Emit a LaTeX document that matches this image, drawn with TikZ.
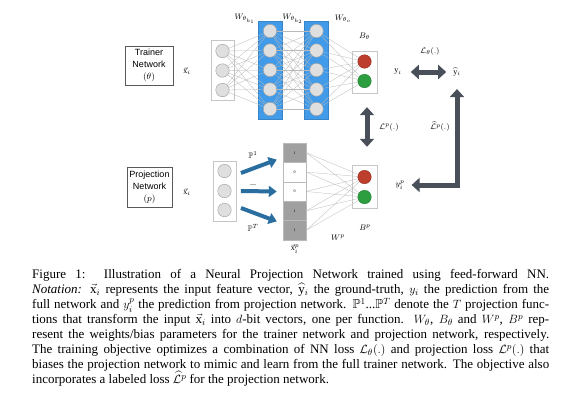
\documentclass[tikz,border=0pt]{standalone}
\usepackage{amsmath,amssymb}
\usepackage{fontspec}
\setmainfont{Liberation Serif}
\newfontfamily\boxfont{Liberation Sans}
\usetikzlibrary{arrows.meta}
\definecolor{layerblue}{RGB}{66,155,233}
\definecolor{outred}{RGB}{190,62,45}
\definecolor{outgreen}{RGB}{44,158,64}
\definecolor{arrowgray}{RGB}{74,80,90}
\definecolor{bitblue}{RGB}{42,110,160}
\definecolor{bitgray}{RGB}{160,160,160}

\begin{document}
\begin{tikzpicture}[x=1pt,y=-1pt]
\tikzstyle{neuron} = [circle, draw=gray!75, fill=gray!25, minimum size=13.5pt, inner sep=0pt]
\tikzstyle{inlayer} = [draw=gray!45, fill=white, minimum width=23pt, minimum height=60pt]
\tikzstyle{hidlayer} = [fill=layerblue, draw=layerblue!85!black, minimum width=24pt, minimum height=98pt]
\tikzstyle{netname} = [draw=gray!70!black, align=center, inner sep=0pt, font=\boxfont\fontsize{9}{12}\selectfont]
\tikzstyle{wire} = [draw=gray!55, line width=0.3pt]
\tikzstyle{lossarrow} = [draw=arrowgray, line width=5pt, {Triangle[length=8pt,width=14pt]}-{Triangle[length=8pt,width=14pt]}]
\tikzstyle{bitarrow} = [draw=bitblue, line width=4pt, -{Triangle[length=8pt,width=11pt]}]
\tikzstyle{lbl} = [inner sep=1pt, font=\fontsize{8}{9}\selectfont]
\tikzstyle{bitcell} = [draw=gray!55, minimum width=23pt, minimum height=19.4pt, inner sep=0pt, font=\fontsize{4}{4}\selectfont]

\useasboundingbox (0,0) rectangle (586,407);
\fill[white] (0,0) rectangle (586,407);

% trainer network
\node[netname, minimum width=48pt, minimum height=39pt] (tnet) at (149,65.5) {Trainer\\Network\\$(\theta)$};
\node[lbl] (tx) at (187,71) {$\vec{\mathrm{x}}_i$};
\node[inlayer] (tin) at (222.5,70.5) {};
\node[hidlayer] (th1) at (270,70) {};
\node[hidlayer] (th2) at (316.5,70) {};
\node[inlayer, minimum width=25pt, minimum height=42pt] (tout) at (364.5,72) {};
\foreach \i/\y in {1/51,2/70.5,3/90} \node[neuron] (ti\i) at (222.5,\y) {};
\foreach \i/\y in {1/31,2/50.5,3/70,4/89.5,5/109} {
  \node[neuron] (ta\i) at (270,\y) {};
  \node[neuron] (tb\i) at (316.5,\y) {};
}
\node[neuron, fill=outred, draw=outred!80!black] (tr) at (364.5,61.5) {};
\node[neuron, fill=outgreen, draw=outgreen!80!black] (tg) at (364.5,81) {};
\foreach \i in {1,...,3} \foreach \j in {1,...,5} \draw[wire] (ti\i) -- (ta\j);
\foreach \i in {1,...,5} \foreach \j in {1,...,5} \draw[wire] (ta\i) -- (tb\j);
\foreach \i in {1,...,5} {
  \draw[wire] (tb\i) -- (tr);
  \draw[wire] (tb\i) -- (tg);
}
\node[lbl] (w1) at (245,19) {$W_{\theta_{h_1}}$};
\node[lbl] (w2) at (293,19) {$W_{\theta_{h_2}}$};
\node[lbl] (w3) at (343,19) {$W_{\theta_{o}}$};
\node[lbl] (bt) at (364.5,36) {$B_\theta$};

% projection network
\node[netname, minimum width=45pt, minimum height=40pt] (pnet) at (149.5,187) {Projection\\Network\\$(p)$};
\node[lbl] (px) at (187,192) {$\vec{\mathrm{x}}_i$};
\node[inlayer] (pin) at (224.5,191) {};
\foreach \i/\y in {1/171,2/191,3/210} \node[neuron] (pi\i) at (224.5,\y) {};
\foreach \i/\y/\b/\c in {1/152.7/1/bitgray,2/172.1/0/white,3/191.5/0/white,4/210.9/1/bitgray,5/230.3/1/bitgray}
  \node[bitcell, fill=\c] (c\i) at (294.5,\y) {\b};
\node[inlayer, minimum width=25pt, minimum height=43pt] (pout) at (364.5,186.5) {};
\node[neuron, fill=outred, draw=outred!80!black] (pr) at (364.5,177) {};
\node[neuron, fill=outgreen, draw=outgreen!80!black] (pg) at (364.5,197) {};
\foreach \i in {1,...,5} {
  \draw[wire] (c\i.east) -- (pr);
  \draw[wire] (c\i.east) -- (pg);
}
\draw[bitarrow] ([xshift=9.5pt,yshift=-2pt]pi1.east) -- ([xshift=-6pt,yshift=3pt]c1.south west);
\draw[bitarrow] ([xshift=9.5pt]pi2.east) -- ([xshift=-6pt]c3.west);
\draw[bitarrow] ([xshift=9.5pt,yshift=2pt]pi3.east) -- ([xshift=-6pt,yshift=-1pt]c5.north west);
\node[lbl] (p1) at (253,155) {$\mathbb{P}^1$};
\node[lbl] (pd) at (253,185) {...};
\node[lbl] (pt) at (253,228) {$\mathbb{P}^T$};
\node[lbl] (xp) at (295,249) {$\vec{\mathrm{x}}_i^p$};
\node[lbl] (bp) at (365,228) {$B^p$};
\node[lbl] (wp) at (338,238) {$W^p$};

% losses
\node[lbl] (yi) at (398,72) {$\mathrm{y}_i$};
\node[lbl] (yh) at (457,72) {$\widehat{\mathrm{y}}_i$};
\node[lbl] (yip) at (400,185) {$y_i^p$};
\draw[lossarrow, shorten <=8pt, shorten >=6pt] (yi) -- (yh);
\node[lbl] (lt) at (430,51) {$\mathcal{L}_\theta(.)$};
\draw[lossarrow, shorten <=14pt, shorten >=18pt] ([xshift=2.5pt]tout.south) -- ([xshift=2.5pt]pout.north);
\node[lbl] (lp) at (389,127) {$\mathcal{L}^p(.)$};
\draw[lossarrow, shorten <=6pt, shorten >=12pt] (yip.east) -| (yh.south);
\node[lbl] (lh) at (440,127) {$\widehat{\mathcal{L}}^p(.)$};

% caption
\node[anchor=north west, text width=517pt, align=justify, inner sep=0pt, font=\fontsize{13}{15}\selectfont] (cap) at (32,269) {Figure 1:\ \ Illustration of a Neural Projection Network trained using feed-forward NN.\linebreak
\emph{Notation:} $\vec{\mathrm{x}}_i$ represents the input feature vector, $\widehat{\mathrm{y}}_i$ the ground-truth, $y_i$ the prediction from the\linebreak
full network and $y_i^p$ the prediction from projection network. $\mathbb{P}^1$...$\mathbb{P}^T$ denote the $T$ projection func-\linebreak
tions that transform the input $\vec{\mathrm{x}}_i$ into $d$-bit vectors, one per function. $W_\theta$, $B_\theta$ and $W^p$, $B^p$ rep-\linebreak
resent the weights/bias parameters for the trainer network and projection network, respectively.\linebreak
The training objective optimizes a combination of NN loss $\mathcal{L}_\theta(.)$ and projection loss $\mathcal{L}^p(.)$ that\linebreak
biases the projection network to mimic and learn from the full trainer network. The objective also\linebreak
incorporates a labeled loss $\widehat{\mathcal{L}}^p$ for the projection network.};
\end{tikzpicture}
\end{document}
